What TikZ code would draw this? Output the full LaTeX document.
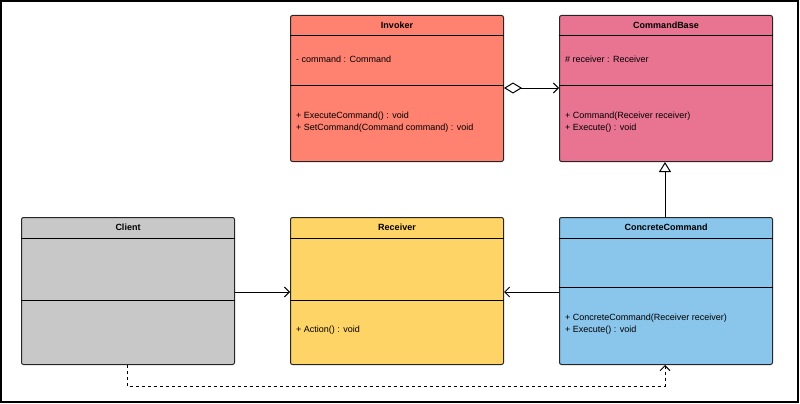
\documentclass[tikz,border=0pt]{standalone}
\usepackage{fontspec}
\setmainfont{Liberation Sans}
\usetikzlibrary{arrows.meta, positioning, calc}
\definecolor{invokerred}{HTML}{FF8170}
\definecolor{basepink}{HTML}{E87492}
\definecolor{clientgray}{HTML}{C8C8C8}
\definecolor{receiveryellow}{HTML}{FFD466}
\definecolor{concreteblue}{HTML}{8AC5EB}
\tikzset{
  umlbox/.style={draw=black!85, line width=1pt, rounded corners=2pt, anchor=north west,
    minimum width=213pt, minimum height=146pt, inner sep=0pt},
  title/.style={font=\fontsize{9}{10}\selectfont\bfseries, anchor=center},
  member/.style={font=\fontsize{9}{11.5}\selectfont, anchor=west, align=left, inner sep=0pt},
  assoc/.style={-{Straight Barb[length=5pt,width=10pt]}, line width=1pt},
}
\begin{document}
\begin{tikzpicture}[x=1pt, y=-1pt]
\useasboundingbox (0,0) rectangle (800,404);
\draw[line width=1.2pt] (1,1) rectangle (798,402);

% Classes
\node[umlbox, fill=invokerred] (inv) at (290,15) {};
\node[umlbox, fill=basepink] (base) at (559,15) {};
\node[umlbox, fill=clientgray, minimum height=147pt] (cli) at (21,217) {};
\node[umlbox, fill=receiveryellow, minimum height=147pt] (rec) at (290,217) {};
\node[umlbox, fill=concreteblue, minimum height=147pt] (conc) at (559,217) {};

% Compartments
\foreach \n/\s in {inv/70, base/70, cli/83, rec/83, conc/70} {
  \draw[line width=1pt] ($(\n.north west)+(0,21)$) -- ($(\n.north east)+(0,21)$);
  \draw[line width=1pt] ($(\n.north west)+(0,\s)$) -- ($(\n.north east)+(0,\s)$);
}

% Titles
\node[title] at ($(inv.north)+(0,10)$) {Invoker};
\node[title] at ($(base.north)+(0,10)$) {CommandBase};
\node[title] at ($(cli.north)+(0,10)$) {Client};
\node[title] at ($(rec.north)+(0,10)$) {Receiver};
\node[title] at ($(conc.north)+(0,10)$) {ConcreteCommand};

% Members
\node[member] at (296,59) {- command : Command};
\node[member] at (296,122) {+ ExecuteCommand() : void\\+ SetCommand(Command command) : void};
\node[member] at (565,59) {\# receiver : Receiver};
\node[member] at (565,122) {+ Command(Receiver receiver)\\+ Execute() : void};
\node[member] at (296,330) {+ Action() : void};
\node[member] at (565,324) {+ ConcreteCommand(Receiver receiver)\\+ Execute() : void};

% Relations
\draw[assoc, {Diamond[open,length=18pt,width=11pt]}-{Straight Barb[length=5pt,width=10pt]}]
  (inv.east |- 0,88) -- (base.west |- 0,88);
\draw[line width=1pt, -{Triangle[open,length=10pt,width=12pt]}] (conc.north -| 665,0) -- (base.south -| 665,0);
\draw[assoc] (cli.east |- 0,292) -- (rec.west |- 0,292);
\draw[assoc] (conc.west |- 0,292) -- (rec.east |- 0,292);
\coordinate (low) at (127,386);
\draw[assoc, dashed] (cli.south -| low) -- (low) -- (665,386) -- (conc.south -| 665,0);
\end{tikzpicture}
\end{document}
